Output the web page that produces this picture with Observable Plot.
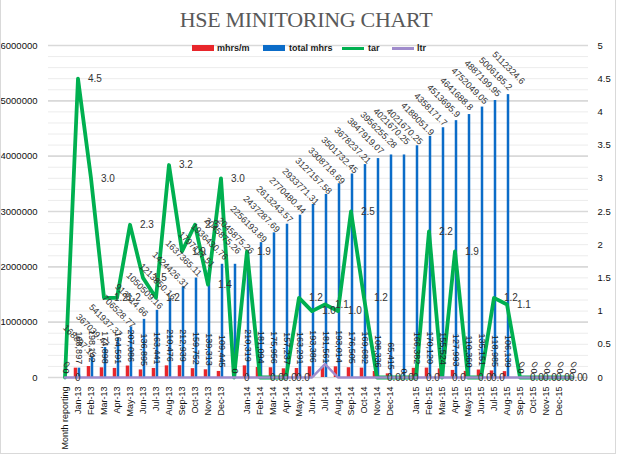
<!DOCTYPE html>
<html>
<head>
<meta charset="utf-8">
<script src="https://cdn.jsdelivr.net/npm/d3@7"></script>
<script src="https://cdn.jsdelivr.net/npm/@observablehq/plot@0.6"></script>
<style>
  body { margin: 0; background: #fff; }
  #chart { position: relative; width: 624px; height: 455px; overflow: hidden; background: #fff;
           font-family: "Liberation Sans", Arial, sans-serif; }
  #chart svg { position: absolute; left: 0; top: 0; }
  #frame { position: absolute; left: 0; top: -1px; width: 616px; height: 455px; box-sizing: border-box;
           border: 1px solid #d9d9d9; pointer-events: none; }
  #title { position: absolute; left: 0; width: 612px; top: 9px; text-align: center;
           font-family: "Liberation Serif", "DejaVu Serif", serif; font-size: 22px; line-height: 22px;
           color: #595959; letter-spacing: -0.3px; }
  .lg { position: absolute; }
  .lg-text { position: absolute; top: 42px; font-size: 9px; font-weight: bold; color: #1a1a1a; line-height: 12px; }
</style>
</head>
<body>
<div id="chart">
  <div id="title">HSE MINITORING CHART</div>
</div>
<script>
// Reporting periods: a lead-in column, three years of months, a spacer column between years
const categories = [
  "Month reporting",
  "Jan-13","Feb-13","Mar-13","Apr-13","May-13","Jun-13","Jul-13","Aug-13","Sep-13","Oct-13","Nov-13","Dec-13",
  "",
  "Jan-14","Feb-14","Mar-14","Apr-14","May-14","Jun-14","Jul-14","Aug-14","Sep-14","Oct-14","Nov-14","Dec-14",
  "",
  "Jan-15","Feb-15","Mar-15","Apr-15","May-15","Jun-15","Jul-15","Aug-15","Sep-15","Oct-15","Nov-15","Dec-15",
  ""
];

// Man-hours worked in each month
const mhrsPerMonth = [
  0,
  168897,198142,174898,164591,207086,136895,163441,210476,212939,159752,139313,109445,
  0,
  210319,181094,175956,157237,163291,193386,181561,193014,176505,169682,108336,65415,
  0,
  166382,170120,155524,127993,110360,135151,118985,106139,0,0,0,0,
  0
];

// Cumulative man-hours
const totalMhrs = [
  0,
  168897.15,367039.47,541937.37,706528.77,913614.66,1050509.16,1213950.16,1424426.31,1637365.11,1797117.51,1936430.76,2045875.26,
  2045875.26,
  2256193.89,2437287.69,2613243.57,2770480.44,2933771.31,3127157.58,3308718.69,3501732.45,3678237.21,3847919.07,3956255.28,4021670.25,
  4021670.25,
  4188051.9,4358171.7,4513695.9,4641688.8,4752049.05,4887199.95,5006185.2,5112324.6,0,0,0,0,
  0
];

// Rates on the secondary axis
const tar = [
  0,
  4.5,3.0,1.2,1.2,2.3,1.5,1.2,3.2,1.9,2.3,1.4,3.0,
  0,
  1.9,0,0,0,1.2,1.0,1.1,1.0,2.5,1.2,0,0,
  0,
  0,2.2,0,1.9,0,0,1.2,1.1,0,0,0,0,
  0
];
const ltr = [
  0,
  0,0,0,0,0,0,0,0,0,0,0,0,
  0,
  0,0,0,0,0,0,0.2,0,0,0,0,0,
  0,
  0,0,0,0,0,0,0,0,0,0,0,0,
  0
];

const leftTicks = [0, 1000000, 2000000, 3000000, 4000000, 5000000, 6000000];
const rightTicks = [0, 0.5, 1, 1.5, 2, 2.5, 3, 3.5, 4, 4.5, 5];

const seriesColors = { mhrs: "#e8262b", total: "#0b6cc8", tar: "#00b050", ltr: "#a08ccc" };

// right axis 0–5 shares the left axis 0–6,000,000
const RATE = 1200000;

const rows = categories.map((cat, i) => ({
  i, cat,
  isMonth: /-\d\d$/.test(cat),
  mhrs: mhrsPerMonth[i],
  total: totalMhrs[i],
  tar: tar[i],
  ltr: ltr[i]
}));

const totalText = d => String(d.total);
const monthText = d => d3.format(",")(d.mhrs);
const tarText = d => d.isMonth ? d3.format(".1f")(d.tar) : String(d.tar);

// rotated cumulative labels sit above their bar; longer strings need more lift
const totalLabelMarks = d3.groups(rows, d => totalText(d).length).map(([len, group]) =>
  Plot.text(group, {
    x: "i", y: "total", text: totalText, rotate: 45,
    dx: 1.5, dy: -((len * 5 + 11) / 2.83 + 7),
    fontSize: 9, fill: "#333"
  })
);

const grid200k = d3.range(0, 6000001, 200000);

const chart = Plot.plot({
  width: 624,
  height: 455,
  marginLeft: 48,
  marginRight: 36,
  marginTop: 45,
  marginBottom: 78,
  style: { fontFamily: "'Liberation Sans', Arial, sans-serif", background: "transparent", overflow: "visible" },
  x: { type: "band", domain: d3.range(categories.length), padding: 0, axis: null },
  y: { domain: [0, 6000000], axis: null },
  marks: [
    Plot.gridY({ ticks: grid200k, stroke: "#ececec", strokeOpacity: 1, strokeWidth: 1 }),
    Plot.gridY({ ticks: leftTicks, stroke: "#d9d9d9", strokeOpacity: 1, strokeWidth: 1.6 }),
    Plot.axisY({ anchor: "left", ticks: leftTicks, tickFormat: d => String(d), tickSize: 0, tickPadding: 11,
                 fontSize: 9.5, color: "#111", label: null }),
    Plot.axisY({ anchor: "right", ticks: rightTicks.map(v => v * RATE), tickFormat: d => String(Math.round(d / RATE * 10) / 10),
                 tickSize: 0, tickPadding: 9, fontSize: 9.5, color: "#111", label: null }),
    Plot.axisX({ ticks: d3.range(categories.length), tickFormat: i => categories[i], tickRotate: -90,
                 tickSize: 0, tickPadding: 9, fontSize: 9, color: "#111", label: null }),
    Plot.barY(rows, { x: "i", y: "mhrs", fill: seriesColors.mhrs, insetLeft: 2.75, insetRight: 6.75 }),
    Plot.barY(rows, { x: "i", y: "total", fill: seriesColors.total, insetLeft: 6.75, insetRight: 3.75 }),
    Plot.line(rows, { x: "i", y: d => d.tar * RATE, stroke: seriesColors.tar, strokeWidth: 3.8, strokeLinejoin: "round" }),
    Plot.line(rows, { x: "i", y: d => d.ltr * RATE, stroke: seriesColors.ltr, strokeWidth: 2.5, strokeLinejoin: "round" }),
    Plot.text(rows, { x: "i", y: "mhrs", text: monthText, rotate: 90, textAnchor: "end", dx: 0.5, dy: -4,
                      fontSize: 9, fill: "#222" }),
    ...totalLabelMarks,
    Plot.text(rows, { x: "i", y: d => d.tar * RATE, text: tarText, textAnchor: "start", dx: 10,
                      fontSize: 10, fill: "#333" })
  ]
});

const root = document.getElementById("chart");
root.insertBefore(chart, root.firstChild);

// legend row
const legendItems = [
  { label: "mhrs/m", color: seriesColors.mhrs, kind: "bar", swatchX: 192, textX: 217 },
  { label: "total mhrs", color: seriesColors.total, kind: "bar", swatchX: 263, textX: 289 },
  { label: "tar", color: seriesColors.tar, kind: "line", swatchX: 342, textX: 368 },
  { label: "ltr", color: seriesColors.ltr, kind: "line", swatchX: 392, textX: 417 }
];
for (const item of legendItems) {
  const sw = document.createElement("div");
  sw.className = "lg";
  sw.style.left = item.swatchX + "px";
  sw.style.width = "22px";
  if (item.kind === "bar") { sw.style.top = "45px"; sw.style.height = "6px"; }
  else { sw.style.top = "46.5px"; sw.style.height = "3px"; }
  sw.style.background = item.color;
  root.appendChild(sw);
  const tx = document.createElement("div");
  tx.className = "lg-text";
  tx.style.left = item.textX + "px";
  tx.textContent = item.label;
  root.appendChild(tx);
}

const frame = document.createElement("div");
frame.id = "frame";
root.appendChild(frame);
</script>
</body>
</html>
